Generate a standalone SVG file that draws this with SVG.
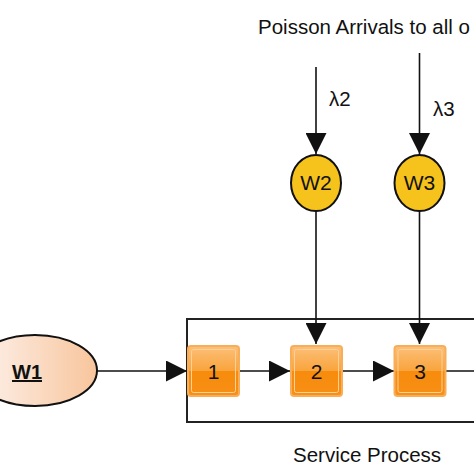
<svg xmlns="http://www.w3.org/2000/svg" width="474" height="474" viewBox="0 0 474 474">
<style>
text{font-family:"Liberation Sans",Arial,sans-serif;fill:#111}
.lbl{font-size:20.5px}
.num{font-size:21px;text-anchor:middle}
.conn{stroke:#111;stroke-width:1.6;fill:none}
.frame{stroke:#222;stroke-width:2;fill:none}
.box{fill:url(#boxg);stroke:#f8ae58;stroke-width:2}
.inner{fill:none;stroke:#fdd09a;stroke-width:1}
.circ{fill:#f6c21c;stroke:#111;stroke-width:2}
</style>
<defs>
<linearGradient id="boxg" x1="0" y1="0" x2="0" y2="1">
<stop offset="0" stop-color="#fcc079"/>
<stop offset="0.5" stop-color="#f9a43c"/>
<stop offset="0.5" stop-color="#f78b0c"/>
<stop offset="1" stop-color="#f79016"/>
</linearGradient>
<linearGradient id="w1g" x1="0" y1="0" x2="1" y2="0">
<stop offset="0" stop-color="#fdf3ee"/>
<stop offset="1" stop-color="#f8c59c"/>
</linearGradient>
<marker id="arr" markerUnits="userSpaceOnUse" markerWidth="21" markerHeight="21" refX="21" refY="10.5" orient="auto">
<path d="M0,0 L21,10.5 L0,21 z" fill="#111"/>
</marker>
</defs>
<rect width="474" height="474" fill="#fff"/>
<text class="lbl" x="258" y="34">Poisson Arrivals to all o</text>
<text class="lbl" x="293" y="462">Service Process</text>
<path class="frame" d="M480,319 H187 V422 H480"/>
<g id="connectors">
<line class="conn" x1="316" y1="67" x2="316" y2="154" marker-end="url(#arr)"/>
<line class="conn" x1="419.5" y1="53" x2="419.5" y2="154" marker-end="url(#arr)"/>
<line class="conn" x1="316" y1="211" x2="316" y2="344" marker-end="url(#arr)"/>
<line class="conn" x1="419.5" y1="211" x2="419.5" y2="344" marker-end="url(#arr)"/>
<line class="conn" x1="97" y1="371" x2="187" y2="371" marker-end="url(#arr)"/>
<line class="conn" x1="239" y1="371" x2="290" y2="371" marker-end="url(#arr)"/>
<line class="conn" x1="342" y1="371" x2="394" y2="371" marker-end="url(#arr)"/>
<line class="conn" x1="445" y1="371" x2="480" y2="371"/>
<text class="lbl" x="329" y="106">λ2</text>
<text class="lbl" x="433" y="116">λ3</text>
</g>
<g id="W1">
<ellipse cx="35" cy="370.5" rx="62" ry="35.5" fill="url(#w1g)" stroke="#111" stroke-width="2"/>
<text x="27" y="379" font-size="20" font-weight="bold" text-anchor="middle" text-decoration="underline">W1</text>
</g>
<g id="W2">
<ellipse class="circ" cx="316" cy="183" rx="25" ry="28"/>
<text class="num" x="316" y="190">W2</text>
</g>
<g id="W3">
<ellipse class="circ" cx="419.5" cy="183" rx="25" ry="28"/>
<text class="num" x="419.5" y="190">W3</text>
</g>
<g id="S1">
<rect class="box" x="188" y="346" width="51" height="50" rx="3"/>
<rect class="inner" x="191.5" y="349.5" width="44" height="43" rx="2"/>
<text class="num" x="213.5" y="379">1</text>
</g>
<g id="S2">
<rect class="box" x="291" y="346" width="51" height="50" rx="3"/>
<rect class="inner" x="294.5" y="349.5" width="44" height="43" rx="2"/>
<text class="num" x="316.5" y="379">2</text>
</g>
<g id="S3">
<rect class="box" x="394.5" y="346" width="51" height="50" rx="3"/>
<rect class="inner" x="398" y="349.5" width="44" height="43" rx="2"/>
<text class="num" x="420" y="379">3</text>
</g>
</svg>
